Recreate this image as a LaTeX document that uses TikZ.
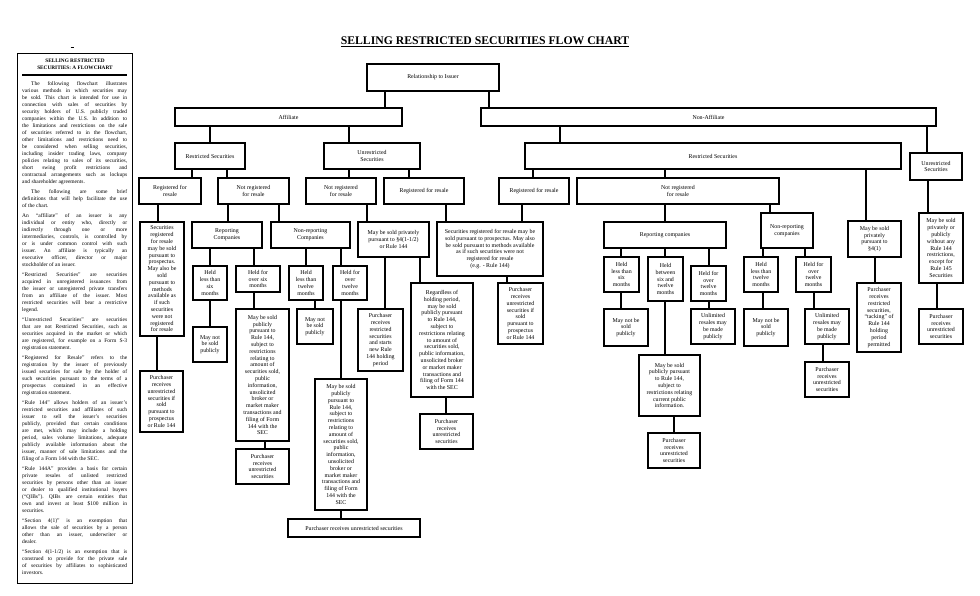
\documentclass[tikz,border=0pt]{standalone}
\usepackage{fontspec}
\setmainfont{Liberation Serif}
\tikzset{
  box/.style={draw, line width=1.5pt, inner sep=0pt, align=center,
    font=\fontsize{5.9}{6.8}\selectfont},
  conn/.style={line width=1.5pt},
  paneltext/.style={anchor=north west, inner sep=0pt},
}
\newcommand{\bx}[6]{%
  \pgfmathsetmacro\mybw{#4-#2}\pgfmathsetmacro\mybh{#5-#3}%
  \pgfmathsetmacro\mybcx{(#2+#4)/2}\pgfmathsetmacro\mybcy{(#3+#5)/2}%
  \node[box,minimum width=\mybw pt,minimum height=\mybh pt] (#1) at (\mybcx,\mybcy) {#6};}
\newcommand{\cn}[3]{\coordinate (tmpx) at (#3,0);
  \draw[conn] (#1.south -| tmpx) -- (#2.north -| tmpx);}
\begin{document}
\begin{tikzpicture}[x=1pt,y=-1pt]
\useasboundingbox (0,0) rectangle (980,595);
% ---------- left panel ----------
\draw[line width=0.8pt] (70.5,47) -- (73.5,47);
\draw[line width=1pt] (17,53) rectangle (132.5,583);
\node[anchor=north, inner sep=0pt, align=center, font=\bfseries\fontsize{5.3}{6.8}\selectfont] (ptitle) at (75,58.5) {SELLING RESTRICTED\\SECURITIES: A FLOWCHART};
\draw[line width=2pt] (22,74.5) -- (127,74.5);
\node[paneltext] (ptext) at (22,81) {\begin{minipage}{105pt}
\fontsize{5.5}{7}\selectfont\frenchspacing\tolerance=10000\hbadness=10000\hfuzz=3pt\parindent=0pt\parskip=3pt
\hspace*{9pt}The following flowchart illustrates\linebreak
various methods in which securities may\linebreak
be sold. This chart is intended for use in\linebreak
connection with sales of securities by\linebreak
security holders of U.S. publicly traded\linebreak
companies within the U.S. In addition to\linebreak
the limitations and restrictions on the sale\linebreak
of securities referred to in the flowchart,\linebreak
other limitations and restrictions need to\linebreak
be considered when selling securities,\linebreak
including insider trading laws, company\linebreak
policies relating to sales of its securities,\linebreak
short swing profit restrictions and\linebreak
contractual arrangements such as lockups\linebreak
and shareholder agreements.

\hspace*{9pt}The following are some brief\linebreak
definitions that will help facilitate the use\linebreak
of the chart.

An “affiliate” of an issuer is any\linebreak
individual or entity who, directly or\linebreak
indirectly through one or more\linebreak
intermediaries, controls, is controlled by\linebreak
or is under common control with such\linebreak
issuer. An affiliate is typically an\linebreak
executive officer, director or major\linebreak
stockholder of an issuer.

“Restricted Securities” are securities\linebreak
acquired in unregistered issuances from\linebreak
the issuer or unregistered private transfers\linebreak
from an affiliate of the issuer. Most\linebreak
restricted securities will bear a restrictive\linebreak
legend.

“Unrestricted Securities” are securities\linebreak
that are not Restricted Securities, such as\linebreak
securities acquired in the market or which\linebreak
are registered, for example on a Form S-3\linebreak
registration statement.

“Registered for Resale” refers to the\linebreak
registration by the issuer of previously\linebreak
issued securities for sale by the holder of\linebreak
such securities pursuant to the terms of a\linebreak
prospectus contained in an effective\linebreak
registration statement.

“Rule 144” allows holders of an issuer’s\linebreak
restricted securities and affiliates of such\linebreak
issuer to sell the issuer’s securities\linebreak
publicly, provided that certain conditions\linebreak
are met, which may include a holding\linebreak
period, sales volume limitations, adequate\linebreak
publicly available information about the\linebreak
issuer, manner of sale limitations and the\linebreak
filing of a Form 144 with the SEC.

“Rule 144A” provides a basis for certain\linebreak
private resales of unlisted restricted\linebreak
securities by persons other than an issuer\linebreak
or dealer to qualified institutional buyers\linebreak
(“QIBs”). QIBs are certain entities that\linebreak
own and invest at least \$100 million in\linebreak
securities.

“Section 4(1)” is an exemption that\linebreak
allows the sale of securities by a person\linebreak
other than an issuer, underwriter or\linebreak
dealer.

“Section 4(1-1/2) is an exemption that is\linebreak
construed to provide for the private sale\linebreak
of securities by affiliates to sophisticated\linebreak
investors.
\end{minipage}};
% ---------- title ----------
\node[inner sep=0pt, font=\bfseries\fontsize{11.7}{13}\selectfont] (title) at (485,42) {\underline{SELLING RESTRICTED SECURITIES FLOW CHART}};
% ---------- boxes ----------
\bx{rel}{367}{64}{499}{91}{Relationship to Issuer}
\bx{aff}{175}{108}{402}{126}{Affiliate}
\bx{naff}{481}{108}{936}{126}{Non-Affiliate}
\bx{aRS}{175}{143}{245}{169}{Restricted Securities}
\bx{aUS}{324}{143}{420}{169}{Unrestricted\\Securities}
\bx{aRSreg}{139}{178}{201}{204}{Registered for\\resale}
\bx{aRSnot}{218}{178}{289}{204}{Not registered\\for resale}
\bx{aUSnot}{306}{178}{376}{204}{Not registered\\for resale}
\bx{aUSreg}{384}{178}{464}{204}{Registered for resale}
\bx{nRS}{525}{143}{901}{169}{Restricted Securities}
\bx{nUS}{910}{153}{962}{180}{Unrestricted\\Securities}
\bx{nRSreg}{499}{178}{569}{204}{Registered for resale}
\bx{nRSnot}{577}{178}{779}{204}{Not registered\\for resale}
% row 4
\bx{aSecReg}{140}{222}{184}{336}{Securities\\registered\\for resale\\may be sold\\pursuant to\\prospectus.\\May also be\\sold\\pursuant to\\methods\\available as\\if such\\securities\\were not\\registered\\for resale}
\bx{aRep}{192}{222}{262}{248}{Reporting\\Companies}
\bx{aNonRep}{271}{222}{350}{248}{Non-reporting\\Companies}
\bx{aPriv}{358}{222}{429}{257}{May be sold privately\\pursuant to §4(1-1/2)\\or Rule 144}
\bx{regShared}{437}{222}{543}{276}{Securities registered for resale may be\\sold pursuant to prospectus. May also\\be sold pursuant to methods available\\as if such securities were not\\registered for resale\\(e.g. - Rule 144)}
\bx{nRep}{604}{222}{726}{248}{Reporting companies}
\bx{nNonRep}{761}{213}{813}{248}{Non-reporting\\companies}
\bx{nPriv}{848}{221}{901}{257}{May be sold\\privately\\pursuant to\\§4(1)}
\bx{nUSsell}{919}{213}{963}{283}{May be sold\\privately or\\publicly\\without any\\Rule 144\\restrictions,\\except for\\Rule 145\\Securities}
% row 5
\bx{aH6less}{193}{266}{227}{300}{Held\\less than\\six\\months}
\bx{aH6over}{236}{266}{280}{292}{Held for\\over six\\months}
\bx{aH12less}{289}{266}{323}{300}{Held\\less than\\twelve\\months}
\bx{aH12over}{333}{266}{367}{300}{Held for\\over\\twelve\\months}
\bx{nH6less}{604}{257}{639}{292}{Held\\less than\\six\\months}
\bx{nHbetween}{648}{257}{683}{301}{Held\\between\\six and\\twelve\\months}
\bx{nH12over}{691}{266}{726}{301}{Held for\\over\\twelve\\months}
\bx{nNRless}{744}{257}{778}{292}{Held\\less than\\twelve\\months}
\bx{nNRover}{796}{257}{831}{292}{Held for\\over\\twelve\\months}
% row 6 and below
\bx{aNo1}{193}{327}{227}{362}{May not\\be sold\\publicly}
\bx{aRule144a}{236}{309}{289}{441}{May be sold\\publicly\\pursuant to\\Rule 144,\\subject to\\restrictions\\relating to\\amount of\\securities sold,\\public\\information,\\unsolicited\\broker or\\market maker\\transactions and\\filing of Form\\144 with the\\SEC}
\bx{aNo2}{297}{309}{333}{344}{May not\\be sold\\publicly}
\bx{aRule144b}{315}{379}{367}{510}{May be sold\\publicly\\pursuant to\\Rule 144,\\subject to\\restrictions\\relating to\\amount of\\securities sold,\\public\\information,\\unsolicited\\broker or\\market maker\\transactions and\\filing of Form\\144 with the\\SEC}
\bx{aPurchR}{358}{309}{403}{371}{Purchaser\\receives\\restricted\\securities\\and starts\\new Rule\\144 holding\\period}
\bx{aRegardless}{411}{283}{473}{397}{Regardless of\\holding period,\\may be sold\\publicly pursuant\\to Rule 144,\\subject to\\restrictions relating\\to amount of\\securities sold,\\public information,\\unsolicited broker\\or market maker\\transactions and\\filing of Form 144\\with the SEC}
\bx{sharedPurch}{498}{283}{543}{344}{Purchaser\\receives\\unrestricted\\securities if\\sold\\pursuant to\\prospectus\\or Rule 144}
\bx{aSecPurch}{140}{371}{183}{432}{Purchaser\\receives\\unrestricted\\securities if\\sold\\pursuant to\\prospectus\\or Rule 144}
\bx{aPurchU1}{236}{449}{289}{484}{Purchaser\\receives\\unrestricted\\securities}
\bx{bottomPurch}{288}{519}{420}{537}{Purchaser receives unrestricted securities}
\bx{aPurchU2}{420}{414}{473}{449}{Purchaser\\receives\\unrestricted\\securities}
\bx{nNo1}{604}{309}{648}{346}{May not be\\sold\\publicly}
\bx{nUnl1}{691}{309}{735}{344}{Unlimited\\resales may\\be made\\publicly}
\bx{nRule144}{639}{355}{700}{416}{May be sold\\publicly pursuant\\to Rule 144,\\subject to\\restrictions relating\\current public\\information.}
\bx{nPurchU1}{648}{433}{700}{468}{Purchaser\\receives\\unrestricted\\securities}
\bx{nNo2}{744}{309}{788}{346}{May not be\\sold\\publicly}
\bx{nUnl2}{805}{309}{849}{344}{Unlimited\\resales may\\be made\\publicly}
\bx{nPurchU2}{805}{362}{849}{397}{Purchaser\\receives\\unrestricted\\securities}
\bx{nPurchTack}{857}{283}{901}{352}{Purchaser\\receives\\restricted\\securities,\\“tacking” of\\Rule 144\\holding\\period\\permitted}
\bx{nPurchU3}{919}{309}{963}{344}{Purchaser\\receives\\unrestricted\\securities}
% ---------- connectors ----------
\cn{rel}{aff}{385}
\cn{rel}{naff}{489}
\cn{aff}{aRS}{210}
\cn{aff}{aUS}{349}
\cn{aRS}{aRSreg}{192}
\cn{aRS}{aRSnot}{227}
\cn{aUS}{aUSnot}{349}
\cn{aUS}{aUSreg}{409}
\cn{naff}{nRS}{560}
\cn{naff}{nUS}{927}
\cn{nRS}{nRSreg}{533}
\cn{nRS}{nRSnot}{665}
\cn{nRS}{nPriv}{866}
\cn{aRSreg}{aSecReg}{158}
\cn{aRSnot}{aRep}{228}
\cn{aRSnot}{aNonRep}{279}
\cn{aUSnot}{aPriv}{367}
\cn{aUSreg}{regShared}{446}
\cn{nRSreg}{regShared}{522}
\cn{nRSnot}{nRep}{665}
\cn{nRSnot}{nNonRep}{770}
\cn{nUS}{nUSsell}{928}
\cn{aSecReg}{aSecPurch}{157}
\cn{aRep}{aH6less}{210}
\cn{aRep}{aH6over}{254}
\cn{aNonRep}{aH12less}{306}
\cn{aNonRep}{aH12over}{341}
\cn{aPriv}{aPurchR}{385}
\cn{aPriv}{aRegardless}{420}
\cn{regShared}{sharedPurch}{507}
\cn{nRep}{nH6less}{621}
\cn{nRep}{nHbetween}{665}
\cn{nRep}{nH12over}{709}
\cn{nNonRep}{nNRless}{763}
\cn{nNonRep}{nNRover}{805}
\cn{nPriv}{nPurchTack}{875}
\cn{nUSsell}{nPurchU3}{937}
\cn{aH6less}{aNo1}{210}
\cn{aH6over}{aRule144a}{254}
\cn{aH12less}{aNo2}{315}
\cn{aH12over}{aRule144b}{341}
\cn{aRule144a}{aPurchU1}{265}
\cn{aRule144b}{bottomPurch}{341}
\cn{aRegardless}{aPurchU2}{446}
\cn{nH6less}{nNo1}{621}
\cn{nHbetween}{nRule144}{665}
\cn{nH12over}{nUnl1}{709}
\cn{nRule144}{nPurchU1}{674}
\cn{nNRless}{nNo2}{763}
\cn{nNRover}{nUnl2}{814}
\cn{nUnl2}{nPurchU2}{823}
\end{tikzpicture}
\end{document}
